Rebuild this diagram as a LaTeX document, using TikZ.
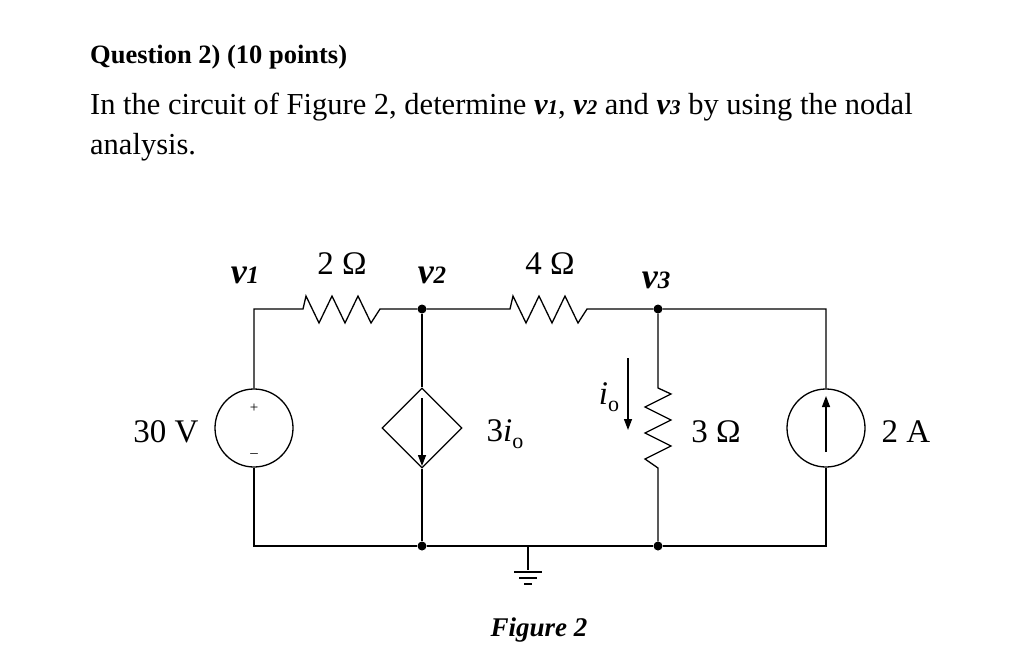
\documentclass[tikz,border=0pt]{standalone}
\usepackage{fontspec}
\setmainfont{Liberation Serif}
\usetikzlibrary{arrows.meta,shapes.geometric}
\begin{document}
\begin{tikzpicture}[x=1pt,y=-1pt,
  w/.style={line width=1.3pt},
  dot/.style={circle,fill,inner sep=0pt,minimum size=9pt},
  lbl/.style={font=\fontsize{33}{36}\selectfont,inner sep=0pt},
  vl/.style={font=\fontsize{36}{38}\selectfont\bfseries\itshape,inner sep=0pt},
  arr/.style={w,-{Triangle[length=11pt,width=8pt]}}]
\useasboundingbox (0,0) rectangle (1024,656);
\node[anchor=base west,font=\fontsize{26.5}{30}\selectfont\bfseries,inner sep=0pt] (t) at (90,63) {Question 2) (10 points)};
\node[anchor=base west,font=\fontsize{30.5}{34}\selectfont,inner sep=0pt] (p1) at (90,114) {In the circuit of Figure 2, determine \textbf{\textit{v{\fontsize{21}{22}\selectfont 1}}}, \textbf{\textit{v{\fontsize{21}{22}\selectfont 2}}} and \textbf{\textit{v{\fontsize{21}{22}\selectfont 3}}} by using the nodal};
\node[anchor=base west,font=\fontsize{30.5}{34}\selectfont,inner sep=0pt] (p2) at (90,154) {analysis.};
% nodes
\coordinate (tl) at (254,309); \coordinate (bl) at (254,546);
\node[dot] (n2) at (422,309) {}; \node[dot] (g2) at (422,546) {};
\node[dot] (n3) at (658,309) {}; \node[dot] (g3) at (658,546) {};
\coordinate (tr) at (826,309); \coordinate (br) at (826,546);
\coordinate (gnd) at (528,546);
% sources
\node[w,draw,circle,minimum size=78pt,inner sep=0pt] (vs) at (254,428) {};
\node[font=\fontsize{15}{16}\selectfont] (vp) at (254,408) {+};
\node[font=\fontsize{15}{16}\selectfont] (vm) at (254,456) {--};
\node[w,draw,diamond,minimum width=80pt,minimum height=80pt,inner sep=0pt] (ds) at (422,428) {};
\node[w,draw,circle,minimum size=78pt,inner sep=0pt] (cs) at (826,428) {};
\draw[arr] (422,398) -- (422,466);
\draw[arr] (826,452) -- (826,396);
% wires and resistors
\draw[w] (vs.north) -- (tl) -- (303,309) -- (306,296) -- (319,323) -- (332,296) -- (345,323) -- (358,296) -- (371,323) -- (380,309) -- (n2) -- (510,309) -- (513,296) -- (526,323) -- (539,296) -- (552,323) -- (565,296) -- (578,323) -- (587,309) -- (n3) -- (tr) -- (cs.north);
\draw[w] (vs.south) -- (bl) -- (g2) -- (g3) -- (br) -- (cs.south);
\draw[w] (n2) -- (ds.north); \draw[w] (ds.south) -- (g2);
\draw[w] (n3) -- (658,388) -- (671,394) -- (645,407) -- (671,420) -- (645,433) -- (671,446) -- (645,459) -- (658,468) -- (g3);
% ground
\draw[w] (gnd) -- (528,570);
\draw[w] (514,572) -- (542,572); \draw[w] (519,578) -- (537,578); \draw[w] (524,584) -- (532,584);
% io arrow
\draw[arr] (628,358) -- (628,430);
% labels
\node[vl] (l1) at (245,275) {v{\fontsize{25}{26}\selectfont 1}};
\node[vl] (l2) at (432,275) {v{\fontsize{25}{26}\selectfont 2}};
\node[vl] (l3) at (656,280) {v{\fontsize{25}{26}\selectfont 3}};
\node[lbl] (r1) at (342,264) {2 Ω};
\node[lbl] (r2) at (550,264) {4 Ω};
\node[lbl] (r3) at (716,432) {3 Ω};
\node[lbl] (a) at (906,432) {2 A};
\node[lbl] (v) at (166,432) {30 V};
\node[lbl] (k) at (505,434) {3\textit{i}{\fontsize{22}{24}\selectfont\raisebox{-7pt}{o}}};
\node[lbl] (io) at (609,397) {\textit{i}{\fontsize{22}{24}\selectfont\raisebox{-7pt}{o}}};
\node[font=\fontsize{27}{30}\selectfont\bfseries\itshape] (f) at (539,630) {Figure 2};
\end{tikzpicture}
\end{document}
